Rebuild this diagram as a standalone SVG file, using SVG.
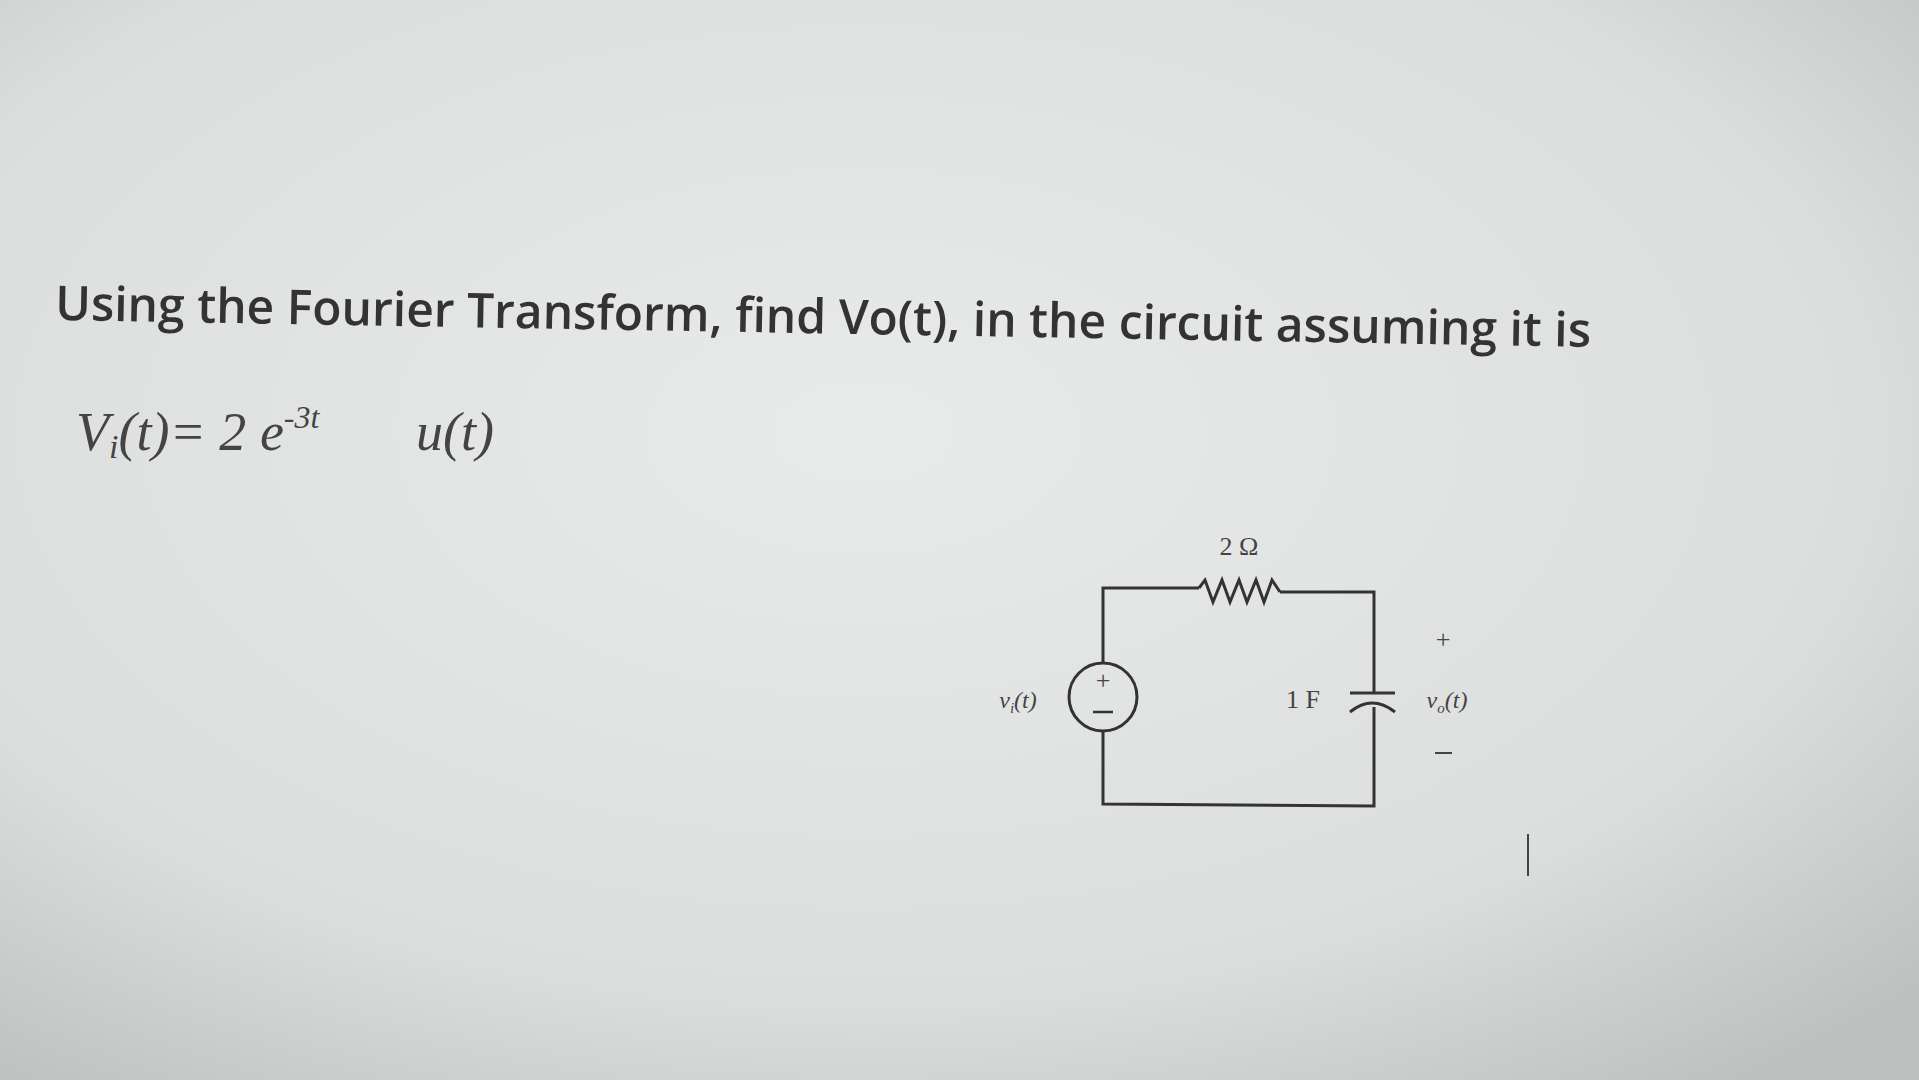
<svg xmlns="http://www.w3.org/2000/svg" width="1919" height="1080" viewBox="0 0 1919 1080">
<defs>
<radialGradient id="bg" cx="0.45" cy="0.4" r="0.75">
<stop offset="0" stop-color="#e9ebea"/>
<stop offset="0.7" stop-color="#dcdedd"/>
<stop offset="1" stop-color="#bfc1c0"/>
</radialGradient>
<style>
.w{fill:none;stroke:#333;stroke-width:3}
.t{font-family:"Liberation Serif",serif;fill:#444}
</style>
</defs>
<rect width="1919" height="1080" fill="url(#bg)"/>
<text x="55" y="320" transform="rotate(1 55 320)" font-family="'Open Sans',sans-serif" font-size="48" font-weight="600" fill="#333" textLength="1536" lengthAdjust="spacingAndGlyphs">Using the Fourier Transform, find Vo(t), in the circuit assuming it is</text>
<text x="76" y="450" font-family="'Liberation Serif',serif" font-style="italic" font-size="54" fill="#444">V<tspan font-size="34" dy="8">i</tspan><tspan dy="-8">(t)= 2 </tspan>e<tspan font-size="32" dy="-22">-3t</tspan><tspan dy="22" x="416">u(t)</tspan></text>
<g id="connectors">
<polyline class="w" points="1199,588 1103,588 1103,663"/>
<polyline class="w" points="1103,731 1103,804 1374,806 1374,707"/>
<polyline class="w" points="1280,592 1374,592 1374,693"/>
</g>
<g id="resistor">
<polyline class="w" points="1199,588 1205,580 1213,602 1222,580 1230,602 1239,580 1247,602 1256,580 1264,602 1272,580 1280,592"/>
<text class="t" x="1239" y="555" font-size="26" text-anchor="middle">2 Ω</text>
</g>
<g id="source">
<circle cx="1103" cy="697" r="34" class="w"/>
<text class="t" x="1103" y="689" font-size="26" text-anchor="middle">+</text>
<line x1="1093" y1="712" x2="1113" y2="712" stroke="#333" stroke-width="2.5"/>
<text class="t" x="1018" y="708" font-size="24" font-style="italic" text-anchor="middle">v<tspan font-size="15" dy="5">i</tspan><tspan dy="-5">(t)</tspan></text>
</g>
<g id="capacitor">
<line x1="1350" y1="693" x2="1395" y2="693" stroke="#333" stroke-width="3"/>
<path d="M1350,712 Q1372,694 1395,712" class="w"/>
<text class="t" x="1303" y="708" font-size="26" text-anchor="middle">1 F</text>
</g>
<g id="vo">
<text class="t" x="1443" y="648" font-size="26" text-anchor="middle">+</text>
<text class="t" x="1447" y="708" font-size="24" font-style="italic" text-anchor="middle">v<tspan font-size="15" dy="5">o</tspan><tspan dy="-5">(t)</tspan></text>
<line x1="1435" y1="753" x2="1452" y2="753" stroke="#444" stroke-width="2"/>
</g>
<line x1="1528" y1="834" x2="1528" y2="876" stroke="#444" stroke-width="2"/>
</svg>
